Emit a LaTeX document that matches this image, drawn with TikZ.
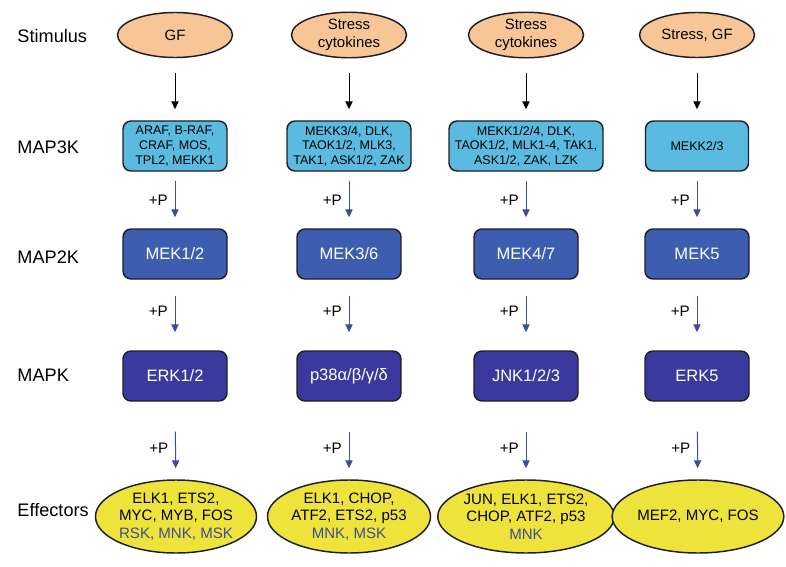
\documentclass[tikz,border=0pt]{standalone}
\usepackage{fontspec}
\setmainfont{Liberation Sans}
\usetikzlibrary{shapes.geometric,arrows.meta}

\definecolor{edgecol}{RGB}{30,30,40}
\definecolor{stimfill}{RGB}{248,198,150}
\definecolor{kkkfill}{RGB}{91,186,224}
\definecolor{kkfill}{RGB}{60,93,176}
\definecolor{kfill}{RGB}{58,58,158}
\definecolor{efffill}{RGB}{238,227,58}
\definecolor{arrowblue}{RGB}{58,77,160}
\definecolor{efftext}{RGB}{62,78,142}

\tikzset{every picture/.style={line width=0.75pt}}
\tikzset{
	rowlabel/.style={anchor=west, inner sep=0pt, font=\fontsize{13.6}{16}\selectfont},
	stim/.style={ellipse, draw=edgecol, line width=1.1pt, fill=stimfill, minimum width=86.25pt, minimum height=33.75pt, inner sep=0pt, align=center, font=\fontsize{11.2}{14}\selectfont},
	kkkbox/.style={rectangle, rounded corners=6pt, draw=edgecol, line width=1.1pt, fill=kkkfill, minimum height=37.5pt, inner sep=0pt, align=center, font=\fontsize{9.4}{10.9}\selectfont},
	kkbox/.style={rectangle, rounded corners=6pt, draw=edgecol, line width=1.1pt, fill=kkfill, text=white, minimum width=78pt, minimum height=37.5pt, inner sep=0pt, font=\fontsize{12.4}{14}\selectfont},
	kbox/.style={kkbox, fill=kfill},
	eff/.style={ellipse, draw=edgecol, line width=1.1pt, fill=efffill, minimum width=117.75pt, minimum height=54.75pt, inner sep=0pt, align=center, font=\fontsize{11.3}{13.1}\selectfont},
	stimarrow/.style={-{Triangle[length=6pt,width=5.5pt]}, draw=black, shorten <=10.9pt, shorten >=8.25pt},
	parrow/.style={-{Triangle[length=6pt,width=5.5pt]}, draw=arrowblue},
	plabel/.style={left=4pt, inner sep=1pt, text=black, font=\fontsize{11.4}{13}\selectfont}
}

\begin{document}
\begin{tikzpicture}[x=0.75pt,y=0.75pt,yscale=-1,xscale=1]
	%set diagram size
	\path (0,0) rectangle (786,567);

	% Row labels
	\draw (17,36) node[rowlabel] (lstim) {Stimulus};
	\draw (17,147) node[rowlabel] (lkkk) {MAP3K};
	\draw (17,257) node[rowlabel] (lkk) {MAP2K};
	\draw (17,375) node[rowlabel] (lk) {MAPK};
	\draw (17,510) node[rowlabel] (leff) {Effectors};

	%Shape: Ellipse (stimuli)
	\draw (175,35) node[stim] (stimA) {GF};
	\draw (349,35) node[stim] (stimB) {Stress\\cytokines};
	\draw (526,35) node[stim] (stimC) {Stress\\cytokines};
	\draw (697,35) node[stim] (stimD) {Stress, GF};

	%Shape: Rectangle (MAP3K)
	\draw (175,146) node[kkkbox, minimum width=78pt] (kkkA) {ARAF, B-RAF,\\CRAF, MOS,\\TPL2, MEKK1};
	\draw (349,146) node[kkkbox, minimum width=93pt] (kkkB) {MEKK3/4, DLK,\\TAOK1/2, MLK3,\\TAK1, ASK1/2, ZAK};
	\draw (526,146) node[kkkbox, minimum width=115.5pt] (kkkC) {MEKK1/2/4, DLK,\\TAOK1/2, MLK1-4, TAK1,\\ASK1/2, ZAK, LZK};
	\draw (697,146) node[kkkbox, minimum width=77.25pt] (kkkD) {MEKK2/3};

	%Shape: Rectangle (MAP2K)
	\draw (175,254) node[kkbox] (kkA) {MEK1/2};
	\draw (349,254) node[kkbox] (kkB) {MEK3/6};
	\draw (526,254) node[kkbox] (kkC) {MEK4/7};
	\draw (697,254) node[kkbox] (kkD) {MEK5};

	%Shape: Rectangle (MAPK)
	\draw (175,376) node[kbox] (kA) {ERK1/2};
	\draw (349,376) node[kbox] (kB) {p38α/β/γ/δ};
	\draw (526,376) node[kbox] (kC) {JNK1/2/3};
	\draw (697,376) node[kbox] (kD) {ERK5};

	%Shape: Ellipse (effectors)
	\draw (176,516.5) node[eff] (effA) {ELK1, ETS2,\\MYC, MYB, FOS\\\textcolor{efftext}{RSK, MNK, MSK}};
	\draw (349,516.5) node[eff] (effB) {ELK1, CHOP,\\ATF2, ETS2, p53\\\textcolor{efftext}{MNK, MSK}};
	\draw (526,516.5) node[eff] (effC) {JUN, ELK1, ETS2,\\CHOP, ATF2, p53\\\textcolor{efftext}{MNK}};
	\draw (698,516.5) node[eff] (effD) {MEF2, MYC, FOS};

	%Straight Lines (stimulus to MAP3K)
	\draw[stimarrow] (stimA) -- (kkkA);
	\draw[stimarrow] (stimB) -- (kkkB);
	\draw[stimarrow] (stimC) -- (kkkC);
	\draw[stimarrow] (stimD) -- (kkkD);

	%Straight Lines (MAP3K to MAP2K)
	\draw[parrow, shorten <=6.75pt, shorten >=8.25pt] (kkkA) -- node[plabel] {+P} (kkA);
	\draw[parrow, shorten <=6.75pt, shorten >=8.25pt] (kkkB) -- node[plabel] {+P} (kkB);
	\draw[parrow, shorten <=6.75pt, shorten >=8.25pt] (kkkC) -- node[plabel] {+P} (kkC);
	\draw[parrow, shorten <=6.75pt, shorten >=8.25pt] (kkkD) -- node[plabel] {+P} (kkD);

	%Straight Lines (MAP2K to MAPK)
	\draw[parrow, shorten <=12pt, shorten >=13.5pt] (kkA) -- node[plabel, pos=0.45] {+P} (kA);
	\draw[parrow, shorten <=12pt, shorten >=13.5pt] (kkB) -- node[plabel, pos=0.45] {+P} (kB);
	\draw[parrow, shorten <=12pt, shorten >=13.5pt] (kkC) -- node[plabel, pos=0.45] {+P} (kC);
	\draw[parrow, shorten <=12pt, shorten >=13.5pt] (kkD) -- node[plabel, pos=0.45] {+P} (kD);

	%Straight Lines (MAPK to effectors)
	\draw[parrow, shorten <=22.5pt, shorten >=8.25pt] (kA) -- node[plabel, pos=0.6] {+P} (effA);
	\draw[parrow, shorten <=22.5pt, shorten >=8.25pt] (kB) -- node[plabel, pos=0.6] {+P} (effB);
	\draw[parrow, shorten <=22.5pt, shorten >=8.25pt] (kC) -- node[plabel, pos=0.6] {+P} (effC);
	\draw[parrow, shorten <=22.5pt, shorten >=8.25pt] (kD) -- node[plabel, pos=0.6] {+P} (effD);

\end{tikzpicture}
\end{document}
